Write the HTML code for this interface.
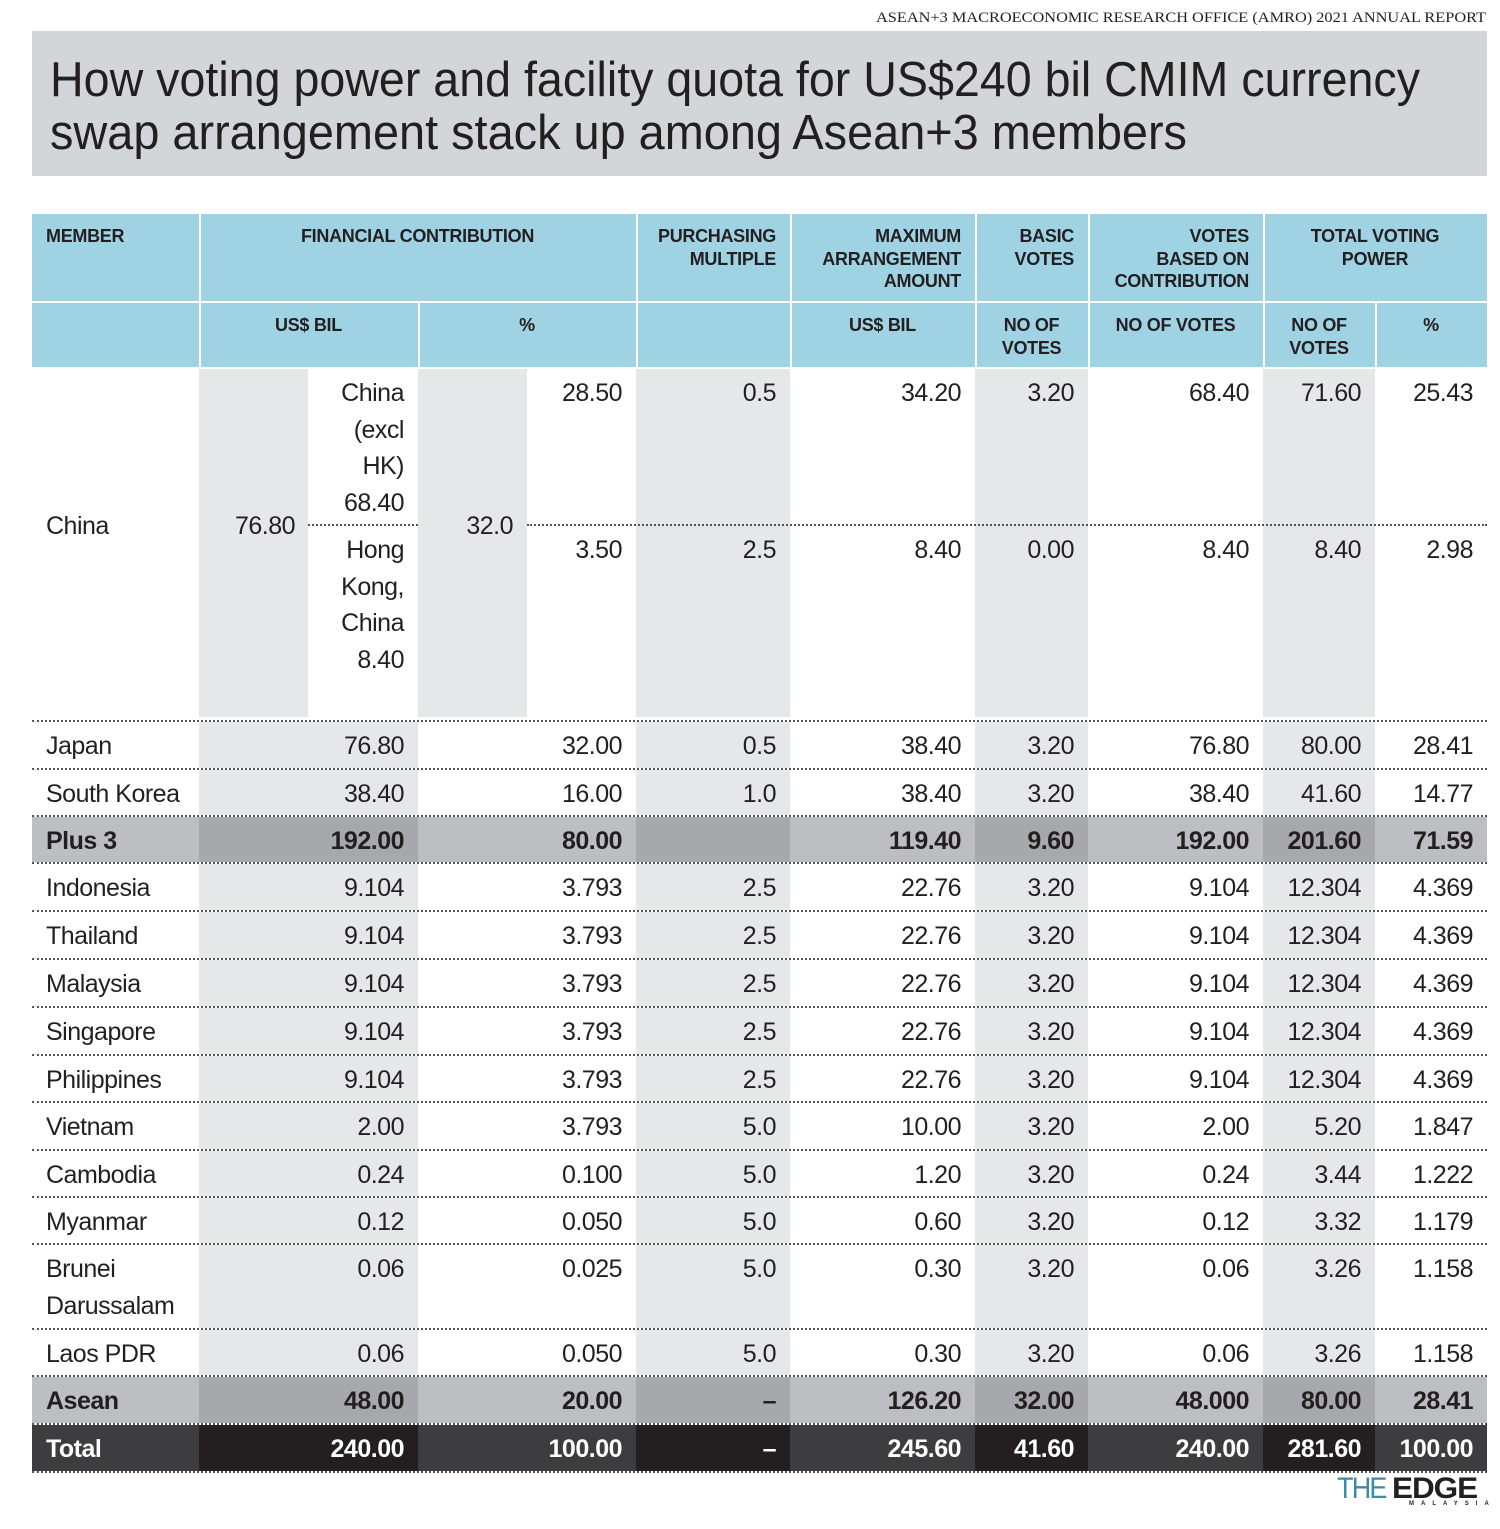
<!DOCTYPE html>
<html><head><meta charset="utf-8"><style>
body{margin:0;width:1500px;height:1529px;background:#fff;position:relative;overflow:hidden;font-family:"Liberation Sans",sans-serif;color:#231f20}
.a{position:absolute;box-sizing:border-box}
.h{font-weight:bold;font-size:18px;line-height:22.5px;letter-spacing:-0.3px;color:#231f20}
.t{font-size:25px;line-height:36.5px;letter-spacing:-0.5px;white-space:nowrap}
.dot{position:absolute;height:0;border-top:2px dotted #555}
</style></head><body>
<svg class="a" style="left:0;top:0" width="1500" height="180">
<text x="1486" y="22" text-anchor="end" font-family="Liberation Serif" font-size="15" textLength="610" lengthAdjust="spacingAndGlyphs" fill="#231f20">ASEAN+3 MACROECONOMIC RESEARCH OFFICE (AMRO) 2021 ANNUAL REPORT</text>
<rect x="32" y="31" width="1455" height="145" fill="#d3d6d9"/>
<text x="50" y="96" font-family="Liberation Sans" font-size="49" textLength="1370" lengthAdjust="spacingAndGlyphs" fill="#231f20">How voting power and facility quota for US$240 bil CMIM currency</text>
<text x="50" y="149" font-family="Liberation Sans" font-size="49" textLength="1137" lengthAdjust="spacingAndGlyphs" fill="#231f20">swap arrangement stack up among Asean+3 members</text>
</svg>
<div id="tbl"></div>
<div class="a" style="left:1337px;top:1472px;width:150px;height:40px">
<span style="position:absolute;left:0;top:0;font-size:30px;color:#3d8aa6;letter-spacing:-2px;font-weight:normal;transform:scaleX(0.9);transform-origin:left">THE</span>
<span style="position:absolute;left:55px;top:0;font-size:30px;font-weight:bold;color:#231f20;letter-spacing:-1px;transform:scaleX(1.05);transform-origin:left">EDGE</span>
<span style="position:absolute;left:72px;top:29px;font-size:6px;letter-spacing:7px;font-weight:bold">MALAYSIA</span>
</div>
<script>
const edges=[32,199,418,636,790,975,1088,1263,1375,1487];
const shaded=[false,true,false,true,false,true,false,true,false];
const members=["Japan","South Korea","Plus 3","Indonesia","Thailand","Malaysia","Singapore","Philippines","Vietnam","Cambodia","Myanmar","Brunei<br>Darussalam","Laos PDR","Asean","Total"];
const usdBil=["76.80","38.40","192.00","9.104","9.104","9.104","9.104","9.104","2.00","0.24","0.12","0.06","0.06","48.00","240.00"];
const pctContrib=["32.00","16.00","80.00","3.793","3.793","3.793","3.793","3.793","3.793","0.100","0.050","0.025","0.050","20.00","100.00"];
const purchMult=["0.5","1.0","","2.5","2.5","2.5","2.5","2.5","5.0","5.0","5.0","5.0","5.0","–","–"];
const maxArr=["38.40","38.40","119.40","22.76","22.76","22.76","22.76","22.76","10.00","1.20","0.60","0.30","0.30","126.20","245.60"];
const basicVotes=["3.20","3.20","9.60","3.20","3.20","3.20","3.20","3.20","3.20","3.20","3.20","3.20","3.20","32.00","41.60"];
const contribVotes=["76.80","38.40","192.00","9.104","9.104","9.104","9.104","9.104","2.00","0.24","0.12","0.06","0.06","48.000","240.00"];
const totalVotes=["80.00","41.60","201.60","12.304","12.304","12.304","12.304","12.304","5.20","3.44","3.32","3.26","3.26","80.00","281.60"];
const totalPct=["28.41","14.77","71.59","4.369","4.369","4.369","4.369","4.369","1.847","1.222","1.179","1.158","1.158","28.41","100.00"];
const rowKind=["n","n","s","n","n","n","n","n","n","n","n","n","n","s","t"];
const rowBounds=[720,768,815,862,910,958,1006,1054,1101,1149,1196,1243,1328,1375,1423,1471];
// China block
const chinaSub=["China<br>(excl<br>HK)<br>68.40","Hong<br>Kong,<br>China<br>8.40"];
const chinaUsd="76.80", chinaPct="32.0";
const chinaSubPct=["28.50","3.50"];
const chinaPurch=["0.5","2.5"],chinaMax=["34.20","8.40"],chinaBasic=["3.20","0.00"],chinaContrib=["68.40","8.40"],chinaTotal=["71.60","8.40"],chinaTotPct=["25.43","2.98"];

const T=document.getElementById('tbl');
function box(x,y,w,h,bg,name){const d=document.createElement('div');d.className='a';d.style.cssText=`left:${x}px;top:${y}px;width:${w}px;height:${h}px;background:${bg}`;


T.appendChild(d);return d;}
function txt(x,y,w,html,align,cls,name,extra){const d=document.createElement('div');d.className='a '+cls;d.style.cssText=`left:${x}px;top:${y}px;width:${w}px;text-align:${align};${extra||''}`;d.innerHTML=html;


T.appendChild(d);return d;}
function dot(x1,x2,y){const d=document.createElement('div');d.className='dot';d.style.cssText=`left:${x1}px;top:${y}px;width:${x2-x1}px`;


T.appendChild(d);}
// header
const HB='#9fd2e3';
box(32,214,1455,88,HB,'header-row-1');
box(32,303,1455,64,HB,'header-row-2');
[199,636,790,975,1088,1263].forEach(x=>box(x,214,2,153,'#fff','header-divider'));
[418,1375].forEach(x=>box(x,303,2,64,'#fff','header-divider'));
box(32,301,1455,2,'#fff','header-divider');
const hy=225;
txt(46,hy,150,'MEMBER','left','h','header-member');
txt(199,hy,437,'FINANCIAL CONTRIBUTION','center','h','header-financial-contribution');
txt(636,hy,140,'PURCHASING<br>MULTIPLE','right','h','header-purchasing-multiple');
txt(790,hy,171,'MAXIMUM<br>ARRANGEMENT<br>AMOUNT','right','h','header-maximum-arrangement');
txt(975,hy,99,'BASIC<br>VOTES','right','h','header-basic-votes');
txt(1088,hy,161,'VOTES<br>BASED ON<br>CONTRIBUTION','right','h','header-votes-contribution');
txt(1263,hy,224,'TOTAL VOTING<br>POWER','center','h','header-total-voting-power');
const hy2=314;
txt(199,hy2,219,'US$ BIL','center','h','subheader-usd-bil');
txt(418,hy2,218,'%','center','h','subheader-pct');
txt(790,hy2,185,'US$ BIL','center','h','subheader-max-usd-bil');
txt(975,hy2,113,'NO OF<br>VOTES','center','h','subheader-basic-no-votes');
txt(1088,hy2,175,'NO OF VOTES','center','h','subheader-contrib-no-votes');
txt(1263,hy2,112,'NO OF<br>VOTES','center','h','subheader-total-no-votes');
txt(1375,hy2,112,'%','center','h','subheader-total-pct');
// China block
const G='#e6e7e9';
box(199,369,109,348,G,'china-usd-shade');
box(418,369,109,348,G,'china-pct-shade');
[3,5,7].forEach(i=>box(edges[i],369,edges[i+1]-edges[i],348,G,'china-col-shade'));
dot(308,418,524);dot(527,1487,524);
txt(46,508,150,'China','left','t','member-china');
txt(199,508,96,chinaUsd,'right','t','china-usd-bil');
txt(308,375,96,chinaSub[0],'right','t','china-excl-hk');
txt(308,532,96,chinaSub[1],'right','t','hong-kong');
txt(418,508,95,chinaPct,'right','t','china-pct');
const subY=[375,532];
const cvals=[chinaPurch,chinaMax,chinaBasic,chinaContrib,chinaTotal,chinaTotPct];
for(let s=0;s<2;s++){
 txt(527,subY[s],95,chinaSubPct[s],'right','t','china-sub-pct');
 cvals.forEach((arr,k)=>{const c=k+3;txt(edges[c],subY[s],edges[c+1]-edges[c]-14,arr[s],'right','t','china-value');});
}
// rows
const cols=[usdBil,pctContrib,purchMult,maxArr,basicVotes,contribVotes,totalVotes,totalPct];
members.forEach((m,r)=>{
 const y0=rowBounds[r],y1=rowBounds[r+1],h=y1-y0,k=rowKind[r];
 const bg=k==='s'?'#bdbec1':k==='t'?'#3d3d3f':'#fff';
 const sh=k==='s'?'#a7a8ab':k==='t'?'#231f20':G;
 box(32,y0+2,1455,h-2,bg,'row-'+m.toLowerCase().replace(/<br>| /g,'-'));
 shaded.forEach((s,i)=>{if(s||(k==='s'&&i===3&&false))box(edges[i],y0+2,edges[i+1]-edges[i],h-2,sh,'col-shade');});
 if(k==='s')box(edges[3],y0+2,edges[4]-edges[3],h-2,sh,'col-shade');
 const ex=k==='n'?'':(k==='t'?'font-weight:bold;color:#fff':'font-weight:bold');
 txt(46,y0+8,150,m,'left','t','member-name',ex);
 cols.forEach((arr,i)=>{const c=i+1;txt(edges[c],y0+8,edges[c+1]-edges[c]-14,arr[r],'right','t','cell-value',ex);});
 dot(32,1487,y0);
});
dot(32,1487,1471);
dot(32,1487,720);
</script>
</body></html>
